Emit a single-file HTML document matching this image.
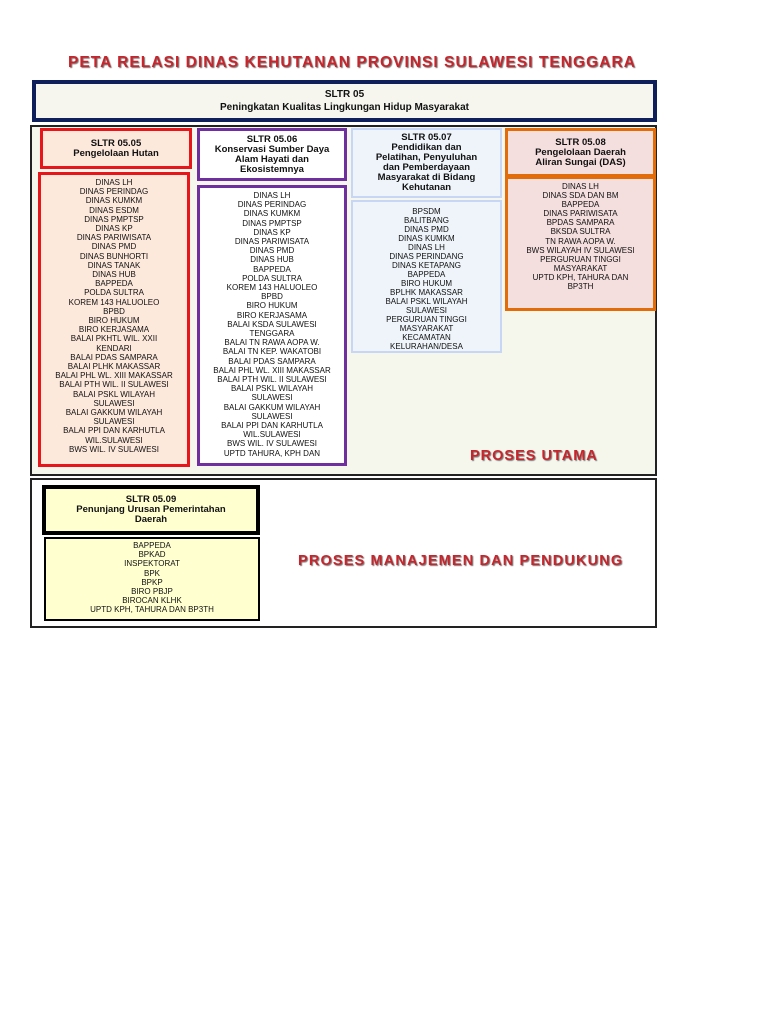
<!DOCTYPE html>
<html><head><style>
body{margin:0;width:768px;height:1024px;background:#fff;position:relative;font-family:"Liberation Sans","DejaVu Sans",sans-serif;overflow:hidden}
.a{position:absolute;box-sizing:border-box;text-align:center;color:#111}
.h{font-size:9.5px;font-weight:bold;line-height:10px;display:flex;flex-direction:column;justify-content:center}
.l{font-size:8px;line-height:9.2px;padding-top:3px}
.big{position:absolute;color:#c8242b;font-weight:bold;text-shadow:1px 1px 1px #777;white-space:nowrap}
</style></head><body>
<div class="big" style="left:68px;top:54px;font-size:15.5px;letter-spacing:1.05px">PETA RELASI DINAS KEHUTANAN PROVINSI SULAWESI TENGGARA</div>
<div class="a h" style="left:32px;top:80px;width:625px;height:42px;border:4px solid #0f1f5a;background:#f6f6ee;font-size:10px;line-height:13px">SLTR 05<br>Peningkatan Kualitas Lingkungan Hidup Masyarakat</div>
<div class="a" style="left:30px;top:125px;width:627px;height:351px;border:2px solid #222;background:#f5f6ec"></div>
<div class="a h" style="left:40px;top:128px;width:152px;height:41px;border:3px solid #e8151b;background:#fde8dc">SLTR 05.05<br>Pengelolaan Hutan</div>
<div class="a l" style="left:38px;top:172px;width:152px;height:295px;border:3px solid #e8151b;background:#fde8dc">DINAS LH<br>DINAS PERINDAG<br>DINAS KUMKM<br>DINAS ESDM<br>DINAS PMPTSP<br>DINAS KP<br>DINAS PARIWISATA<br>DINAS PMD<br>DINAS BUNHORTI<br>DINAS TANAK<br>DINAS HUB<br>BAPPEDA<br>POLDA SULTRA<br>KOREM 143 HALUOLEO<br>BPBD<br>BIRO HUKUM<br>BIRO KERJASAMA<br>BALAI PKHTL WIL. XXII<br>KENDARI<br>BALAI PDAS SAMPARA<br>BALAI PLHK MAKASSAR<br>BALAI PHL WL. XIII MAKASSAR<br>BALAI PTH WIL. II SULAWESI<br>BALAI PSKL WILAYAH<br>SULAWESI<br>BALAI GAKKUM WILAYAH<br>SULAWESI<br>BALAI PPI DAN KARHUTLA<br>WIL.SULAWESI<br>BWS WIL. IV SULAWESI</div>
<div class="a h" style="left:197px;top:128px;width:150px;height:53px;border:3px solid #6f2f9f;background:#fff">SLTR 05.06<br>Konservasi Sumber Daya<br>Alam Hayati dan<br>Ekosistemnya</div>
<div class="a l" style="left:197px;top:185px;width:150px;height:281px;border:3px solid #6f2f9f;background:#fff">DINAS LH<br>DINAS PERINDAG<br>DINAS KUMKM<br>DINAS PMPTSP<br>DINAS KP<br>DINAS PARIWISATA<br>DINAS PMD<br>DINAS HUB<br>BAPPEDA<br>POLDA SULTRA<br>KOREM 143 HALUOLEO<br>BPBD<br>BIRO HUKUM<br>BIRO KERJASAMA<br>BALAI KSDA SULAWESI<br>TENGGARA<br>BALAI TN RAWA AOPA W.<br>BALAI TN KEP. WAKATOBI<br>BALAI PDAS SAMPARA<br>BALAI PHL WL. XIII MAKASSAR<br>BALAI PTH WIL. II SULAWESI<br>BALAI PSKL WILAYAH<br>SULAWESI<br>BALAI GAKKUM WILAYAH<br>SULAWESI<br>BALAI PPI DAN KARHUTLA<br>WIL.SULAWESI<br>BWS WIL. IV SULAWESI<br>UPTD TAHURA, KPH DAN</div>
<div class="a h" style="left:351px;top:128px;width:151px;height:70px;border:2px solid #c6d6f4;background:#eef4fa">SLTR 05.07<br>Pendidikan dan<br>Pelatihan, Penyuluhan<br>dan Pemberdayaan<br>Masyarakat di Bidang<br>Kehutanan</div>
<div class="a l" style="left:351px;top:200px;width:151px;height:153px;border:2px solid #c6d6f4;background:#eef4fa;padding-top:5px;line-height:9px">BPSDM<br>BALITBANG<br>DINAS PMD<br>DINAS KUMKM<br>DINAS LH<br>DINAS PERINDANG<br>DINAS KETAPANG<br>BAPPEDA<br>BIRO HUKUM<br>BPLHK MAKASSAR<br>BALAI PSKL WILAYAH<br>SULAWESI<br>PERGURUAN TINGGI<br>MASYARAKAT<br>KECAMATAN<br>KELURAHAN/DESA</div>
<div class="a h" style="left:505px;top:128px;width:151px;height:49px;border:3px solid #e36c0a;background:#f4dede">SLTR 05.08<br>Pengelolaan Daerah<br>Aliran Sungai (DAS)</div>
<div class="a l" style="left:505px;top:176px;width:151px;height:135px;border:3px solid #e36c0a;background:#f4dede;line-height:9.1px">DINAS LH<br>DINAS SDA DAN BM<br>BAPPEDA<br>DINAS PARIWISATA<br>BPDAS SAMPARA<br>BKSDA SULTRA<br>TN RAWA AOPA W.<br>BWS WILAYAH IV SULAWESI<br>PERGURUAN TINGGI<br>MASYARAKAT<br>UPTD KPH, TAHURA DAN<br>BP3TH</div>
<div class="big" style="left:470px;top:448px;font-size:14.5px;letter-spacing:1px">PROSES UTAMA</div>
<div class="a" style="left:30px;top:478px;width:627px;height:150px;border:2px solid #222;background:#fff"></div>
<div class="a h" style="left:42px;top:485px;width:218px;height:50px;border:4px solid #000;background:#ffffd0">SLTR 05.09<br>Penunjang Urusan Pemerintahan<br>Daerah</div>
<div class="a l" style="left:44px;top:537px;width:216px;height:84px;border:2px solid #000;background:#ffffd0;padding-top:2px">BAPPEDA<br>BPKAD<br>INSPEKTORAT<br>BPK<br>BPKP<br>BIRO PBJP<br>BIROCAN KLHK<br>UPTD KPH, TAHURA DAN BP3TH</div>
<div class="big" style="left:298px;top:553px;font-size:14.5px;letter-spacing:1.15px">PROSES MANAJEMEN DAN PENDUKUNG</div>
</body></html>
